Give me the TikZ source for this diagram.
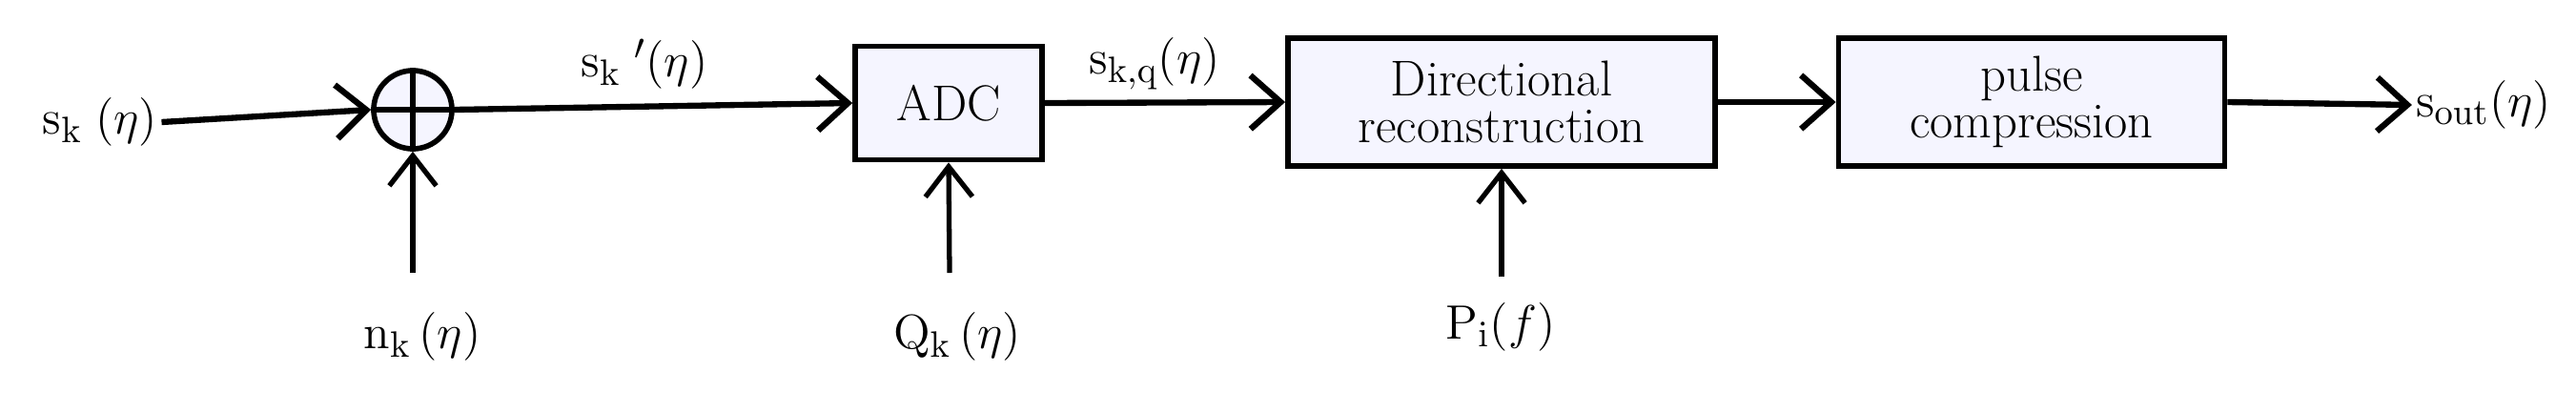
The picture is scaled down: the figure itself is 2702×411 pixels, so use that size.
\documentclass[tikz,border=0pt]{standalone}
\usetikzlibrary{arrows.meta}
\begin{document}
\begin{tikzpicture}[x=0.01cm,y=0.01cm,
  every node/.style={font=\fontsize{15}{17}\selectfont},
  blk/.style={draw,line width=1.6pt,fill=blue!4,align=center,inner sep=0pt},
  con/.style={line width=1.8pt,-{Straight Barb[length=9pt,width=16pt,line width=1.8pt]}},
  thin/.style={line width=1.5pt,-{Straight Barb[length=9pt,width=14pt,line width=1.5pt]}},
  lbl/.style={inner sep=1pt}]
\useasboundingbox (0,0) rectangle (2702,411);
\node[lbl] (sk) at (105,283) {$\mathrm{s_k}\;(\eta)$};
\node[draw,circle,line width=1.6pt,fill=blue!4,inner sep=0pt,minimum size=0.82cm] (sum) at (433,296) {};
\draw[line width=1.6pt] (sum.north) -- (sum.south) (sum.west) -- (sum.east);
\node[blk,minimum width=1.96cm,minimum height=1.19cm] (adc) at (995,303) {ADC};
\node[blk,minimum width=4.48cm,minimum height=1.34cm] (dir) at (1575,304) {Directional\\[-3pt]reconstruction};
\node[blk,minimum width=4.05cm,minimum height=1.34cm] (pc) at (2131,304) {pulse\\[-3pt]compression};
\node[lbl] (sout) at (2605,301) {$\mathrm{s_{out}}(\eta)$};
\node[lbl] (nk) at (443,58) {$\mathrm{n_k}\,(\eta)$};
\node[lbl] (qk) at (1004,58) {$\mathrm{Q_k}\,(\eta)$};
\node[lbl] (pi) at (1574,68) {$\mathrm{P_i}(f)$};
\coordinate (nkt) at (433,125);
\coordinate (qkt) at (996,125);
\coordinate (pit) at (1575,121);
\node[lbl] at (676,344) {$\mathrm{s_k}\;'(\eta)$};
\node[lbl] at (1211,344) {$\mathrm{s_{k,q}}(\eta)$};
\draw[con] (sk.east) -- (sum.west);
\draw[con] (sum.east) -- (adc.west);
\draw[con] (adc.east) -- (dir.west);
\draw[con] (dir.east) -- (pc.west);
\draw[con] (pc.east) -- (sout.west);
\draw[thin] (nkt) -- (sum.south);
\draw[thin] (qkt) -- (adc.south);
\draw[thin] (pit) -- (dir.south);
\end{tikzpicture}
\end{document}
